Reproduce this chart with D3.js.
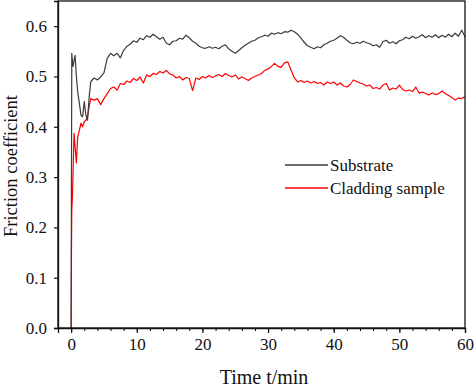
<!DOCTYPE html>
<html lang="en">

<head>
    <meta charset="UTF-8">
    <title>Friction coefficient</title>
    <style>
        body { margin: 0; background: #fff; }
        svg { display: block; }
        text { font-family: "Liberation Serif", "Times New Roman", serif; fill: #111; }
    </style>
</head>

<body>
    <script src="https://cdn.jsdelivr.net/npm/d3@7"></script>
    <script>
        // temps (min)
        const temps = [0, 0.05, 0.1, 0.2, 0.3, 0.45, 0.6, 0.8, 1.0, 1.25, 1.5, 1.75, 2.0, 2.25, 2.5, 2.75, 3.0,
            3.5, 4, 4.5, 5, 5.5, 6, 6.5, 7, 7.5, 8, 8.5, 9, 9.5, 10, 10.5, 11, 11.5, 12, 12.5, 13, 13.5, 14, 14.5,
            15, 15.5, 16, 16.5, 17, 17.5, 18, 18.5, 19, 19.5, 20, 20.5, 21, 21.5, 22, 22.5, 23, 23.5, 24, 24.5,
            25, 25.5, 26, 26.5, 27, 27.5, 28, 28.5, 29, 29.5, 30, 30.5, 31, 31.5, 32, 32.5, 33, 33.5, 34, 34.5,
            35, 35.5, 36, 36.5, 37, 37.5, 38, 38.5, 39, 39.5, 40, 40.5, 41, 41.5, 42, 42.5, 43, 43.5, 44, 44.5,
            45, 45.5, 46, 46.5, 47, 47.5, 48, 48.5, 49, 49.5, 50, 50.5, 51, 51.5, 52, 52.5, 53, 53.5, 54, 54.5,
            55, 55.5, 56, 56.5, 57, 57.5, 58, 58.5, 59, 59.5, 60];

        // Substrate
        const substrat = [0.0, 0.30, 0.546, 0.53, 0.52, 0.532, 0.542, 0.50, 0.47, 0.447, 0.423, 0.42, 0.45, 0.423, 0.413, 0.46, 0.49,
            0.497, 0.493, 0.499, 0.507, 0.536, 0.546, 0.541, 0.546, 0.537, 0.552, 0.56, 0.564, 0.571, 0.568, 0.576, 0.573, 0.581, 0.578, 0.584, 0.579, 0.574, 0.578, 0.566,
            0.563, 0.570, 0.571, 0.576, 0.574, 0.582, 0.577, 0.570, 0.566, 0.560, 0.557, 0.556, 0.559, 0.556, 0.558, 0.555, 0.560, 0.563, 0.555, 0.550,
            0.546, 0.551, 0.557, 0.562, 0.566, 0.570, 0.572, 0.577, 0.579, 0.582, 0.580, 0.586, 0.584, 0.587, 0.585, 0.589, 0.588, 0.592, 0.589, 0.584,
            0.576, 0.568, 0.561, 0.558, 0.555, 0.559, 0.557, 0.563, 0.566, 0.570, 0.572, 0.576, 0.581, 0.578, 0.572, 0.567, 0.565, 0.568, 0.566, 0.570,
            0.567, 0.565, 0.561, 0.563, 0.558, 0.569, 0.572, 0.566, 0.569, 0.565, 0.571, 0.573, 0.578, 0.575, 0.580, 0.576, 0.579, 0.583, 0.577, 0.581,
            0.578, 0.583, 0.577, 0.582, 0.578, 0.584, 0.579, 0.586, 0.580, 0.592, 0.579];

        // Cladding sample
        const revetement = [0.0, 0.15, 0.234, 0.261, 0.314, 0.387, 0.36, 0.328, 0.38, 0.393, 0.407, 0.40, 0.41, 0.413, 0.42, 0.44, 0.456,
            0.453, 0.456, 0.444, 0.456, 0.466, 0.476, 0.479, 0.473, 0.486, 0.484, 0.491, 0.488, 0.496, 0.492, 0.499, 0.487, 0.503, 0.500, 0.506, 0.504, 0.510, 0.507, 0.512,
            0.505, 0.503, 0.497, 0.500, 0.493, 0.498, 0.496, 0.472, 0.497, 0.494, 0.500, 0.497, 0.502, 0.498, 0.501, 0.504, 0.500, 0.506, 0.502, 0.499,
            0.503, 0.495, 0.499, 0.496, 0.492, 0.497, 0.500, 0.503, 0.506, 0.512, 0.515, 0.520, 0.526, 0.520, 0.518, 0.527, 0.529, 0.513, 0.497, 0.489,
            0.492, 0.488, 0.491, 0.487, 0.490, 0.486, 0.488, 0.483, 0.489, 0.486, 0.489, 0.483, 0.487, 0.481, 0.479, 0.484, 0.493, 0.490, 0.487, 0.485,
            0.481, 0.483, 0.476, 0.478, 0.475, 0.483, 0.486, 0.473, 0.477, 0.475, 0.483, 0.474, 0.471, 0.473, 0.470, 0.479, 0.467, 0.469, 0.466, 0.463,
            0.467, 0.464, 0.466, 0.471, 0.466, 0.462, 0.458, 0.453, 0.457, 0.456, 0.460];

        const ticksX = [0, 10, 20, 30, 40, 50, 60];
        const ticksY = [0.0, 0.1, 0.2, 0.3, 0.4, 0.5, 0.6];
        const series = [
            { nom: "Cladding sample", valeurs: revetement, couleur: "#ff0000" },
            { nom: "Substrate", valeurs: substrat, couleur: "#3c3c3c" }
        ];

        const largeur = 474, hauteur = 391;
        const marge = { haut: 1, droite: 9, bas: 63, gauche: 58 };
        const police = '"Liberation Serif", "Times New Roman", serif';

        const canevas = d3.select("body").append("svg")
            .attr("width", largeur)
            .attr("height", hauteur);

        // échelles
        const x = d3.scaleLinear().domain([-2, 60]).range([marge.gauche, largeur - marge.droite]);
        const y = d3.scaleLinear().domain([0, 0.65]).range([hauteur - marge.bas, marge.haut]);

        // courbes (rouge d'abord, substrat par-dessus)
        const ligne = d3.line().x((d, i) => x(temps[i])).y(d => y(d));
        canevas.append("g").selectAll("path")
            .data(series)
            .enter()
            .append("path")
            .attr("d", d => ligne(d.valeurs))
            .attr("fill", "none")
            .attr("stroke", d => d.couleur)
            .attr("stroke-width", 1.2)
            .attr("stroke-linejoin", "round");

        // cadre
        canevas.append("rect")
            .attr("x", x(-2))
            .attr("y", y(0.65))
            .attr("width", x(60) - x(-2))
            .attr("height", y(0) - y(0.65))
            .attr("fill", "none")
            .attr("stroke", "#111")
            .attr("stroke-width", 1.3);

        // axe x : petites graduations tous les 2
        const axeXMineur = d3.axisBottom(x).tickValues(d3.range(-2, 61, 2)).tickSize(3).tickFormat("");
        canevas.append("g")
            .attr("transform", `translate(0,${y(0)})`)
            .call(axeXMineur)
            .call(g => g.select(".domain").remove());

        const axeX = d3.axisBottom(x).tickValues(ticksX).tickSize(5).tickPadding(5).tickFormat(d3.format("d"));
        canevas.append("g")
            .attr("transform", `translate(0,${y(0)})`)
            .attr("font-family", police)
            .call(axeX)
            .call(g => g.attr("font-family", police))
            .call(g => g.select(".domain").attr("stroke", "#111").attr("stroke-width", 1.3))
            .call(g => g.selectAll("line").attr("stroke", "#111").attr("stroke-width", 1.2))
            .call(g => g.selectAll("text").style("font-size", "17px").style("font-family", police).attr("fill", "#111"));

        const axeY = d3.axisLeft(y).tickValues(ticksY).tickSize(4).tickPadding(7).tickFormat(d3.format(".1f"));
        canevas.append("g")
            .attr("transform", `translate(${x(-2)},0)`)
            .call(axeY)
            .call(g => g.attr("font-family", police))
            .call(g => g.select(".domain").attr("stroke", "#111").attr("stroke-width", 1.3))
            .call(g => g.selectAll("line").attr("stroke", "#111").attr("stroke-width", 1.2))
            .call(g => g.selectAll("text").style("font-size", "17px").style("font-family", police).attr("fill", "#111"));

        // titres des axes
        canevas.append("text")
            .attr("x", 264)
            .attr("y", 384)
            .attr("text-anchor", "middle")
            .style("font-size", "20px")
            .text("Time t/min");

        canevas.append("text")
            .attr("transform", "translate(17,166) rotate(-90)")
            .attr("text-anchor", "middle")
            .style("font-size", "18.5px")
            .text("Friction coefficient");

        // légende
        const legende = canevas.append("g")
            .selectAll("g")
            .data(series.slice().reverse())
            .enter()
            .append("g")
            .attr("transform", (d, i) => `translate(285,${165 + i * 23})`);

        legende.append("line")
            .attr("x1", 0).attr("x2", 43)
            .attr("y1", 0).attr("y2", 0)
            .attr("stroke", d => d.couleur)
            .attr("stroke-width", 1.3);

        legende.append("text")
            .attr("x", 45)
            .attr("y", 6)
            .style("font-size", "17px")
            .text(d => d.nom);
    </script>
</body>

</html>
